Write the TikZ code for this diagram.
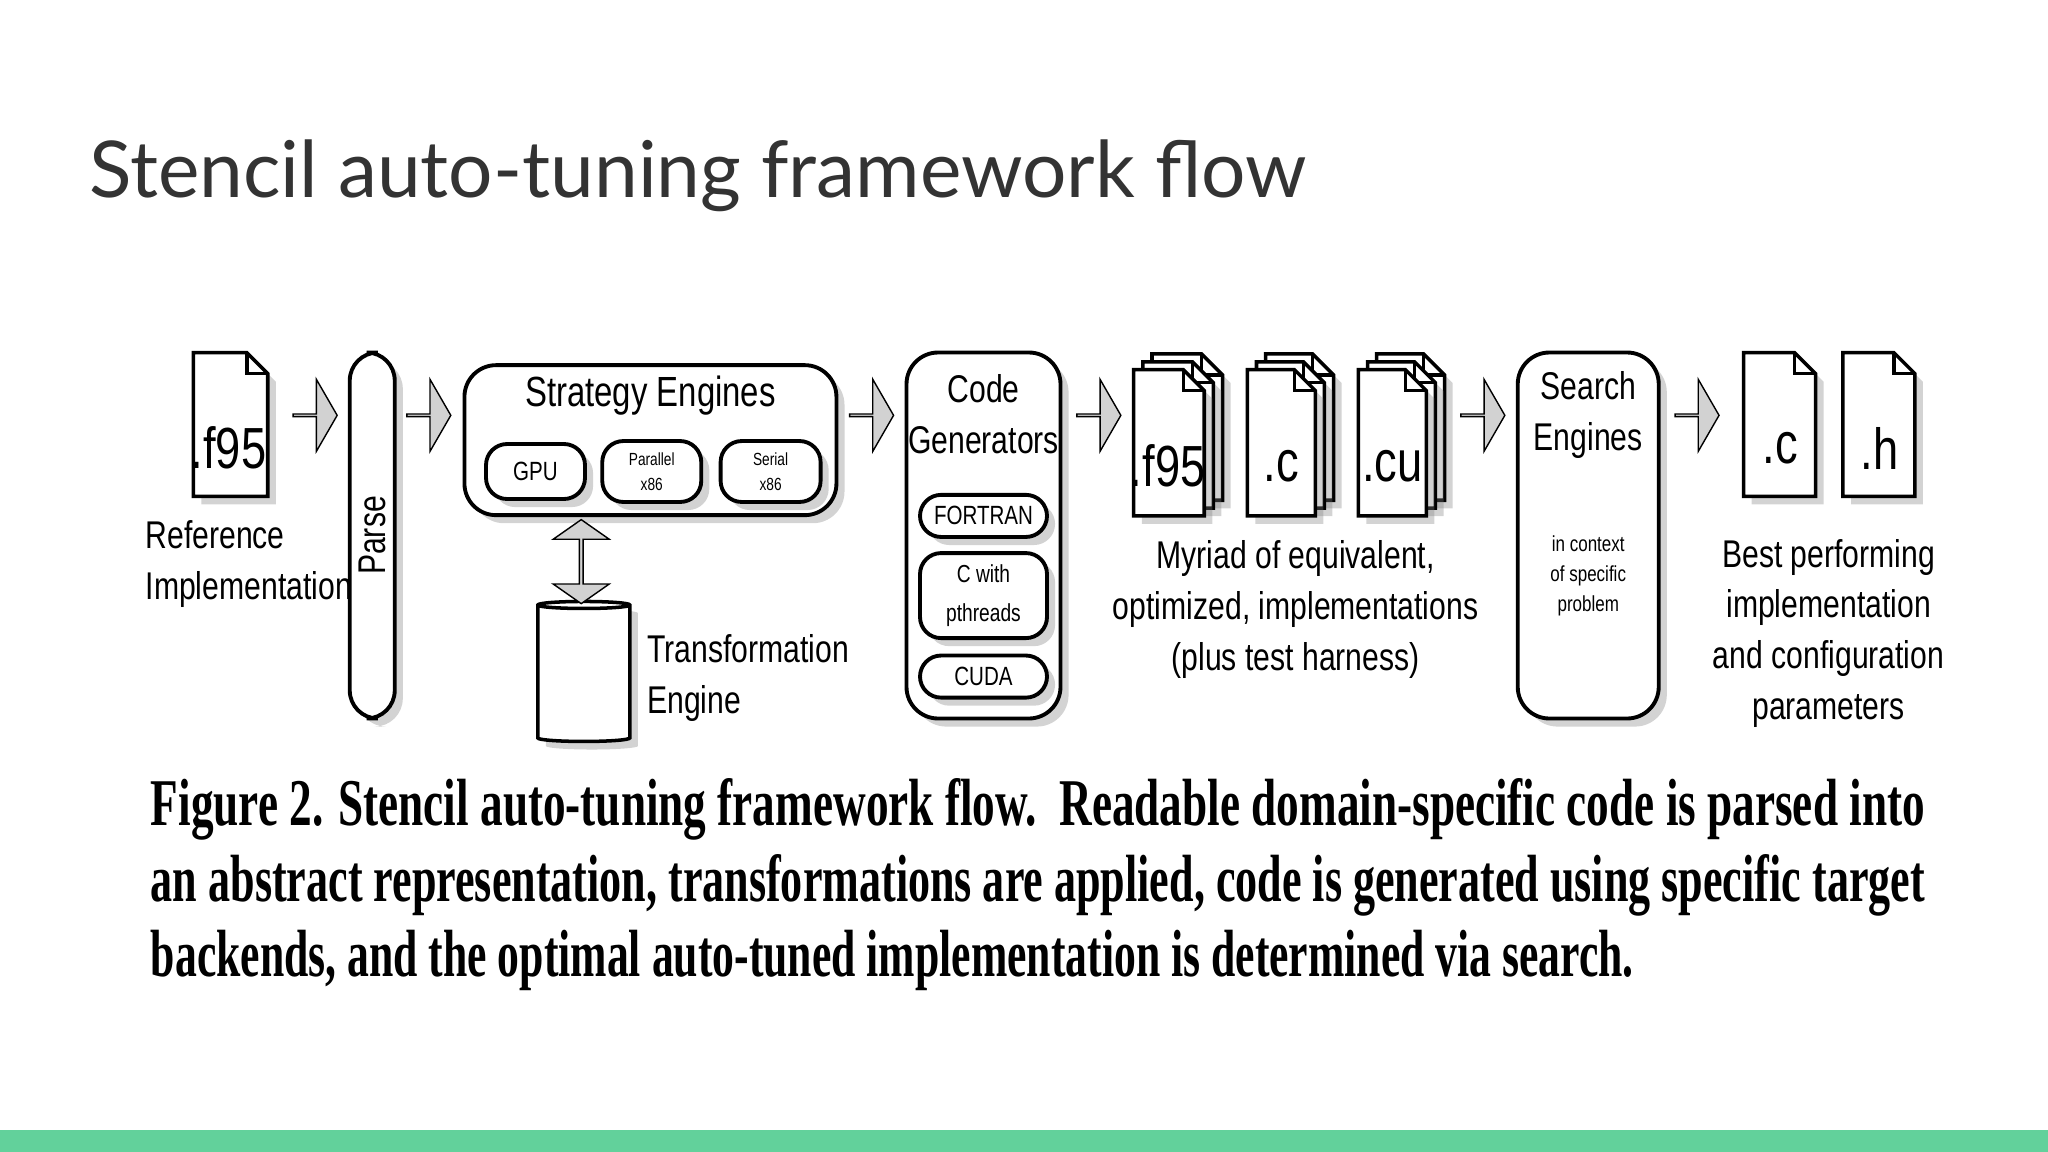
\documentclass[tikz,border=0pt]{standalone}
\usepackage{fontspec}
\setmainfont{Liberation Serif}
\newfontfamily\titlefont{Lato}
\newfontfamily\narrow{Liberation Sans}[FakeStretch=0.78]
\usetikzlibrary{positioning,shapes.arrows,shapes.geometric,shadows}
\definecolor{barcol}{HTML}{62D19B}
\definecolor{titlecol}{HTML}{333333}
\tikzset{
  box/.style={draw, line width=1.1pt, rounded corners=9pt, fill=white, drop shadow={opacity=0.35}},
  sub/.style={draw, line width=1.1pt, rounded corners=6pt, fill=white, drop shadow={opacity=0.35}, font=\narrow\fontsize{7.5}{9}\selectfont, align=center},
  flow/.style={single arrow, draw, fill=gray!35, minimum height=0.44cm, minimum width=0.72cm, single arrow head extend=0.18cm, single arrow tip angle=120, inner sep=0pt},
  lbl/.style={font=\narrow\fontsize{11}{14.5}\selectfont, align=center},
  ext/.style={font=\narrow\fontsize{16.5}{17}\selectfont},
  caption/.style={anchor=base west, inner sep=0pt, font=\bfseries\fontsize{19}{19}\selectfont}
}
% page with a folded corner: x, y, width, height
\newcommand{\docpage}[4]{%
  \draw[line width=1pt, fill=white, drop shadow={opacity=0.35}]
    (#1,#2) -- ++({#3-16},0) -- ++(16,16) -- ++(0,{#4-16}) -- ++({-#3},0) -- cycle;
  \draw[line width=1pt] ({#1+#3-16},#2) -- ++(0,16) -- ++(16,0);}
% stack of three pages
\newcommand{\docstack}[4]{%
  \docpage{#1+14}{#2-12}{#3}{#4}
  \docpage{#1+7}{#2-6}{#3}{#4}
  \docpage{#1}{#2}{#3}{#4}}
\begin{document}
\begin{tikzpicture}[x=0.013061cm, y=-0.013061cm]
  \useasboundingbox (0,0) rectangle (1568,882);
  \fill[barcol] (0,865) rectangle (1568,882);
  % title
  \node[anchor=base west, inner sep=0pt, text=titlecol, font=\titlefont\fontsize{22.3}{22}\selectfont] (title) at (68,151) {Stencil auto-tuning framework flow};
  % reference implementation
  \docpage{148}{270}{57}{110}
  \node[ext] (ff) at (175,343) {.f95};
  \node[lbl, align=left, anchor=west] (ref) at (102,432) {Reference\\Implementation};
  \node[flow] (a1) at (241,318) {};
  % parse
  \node[box, rounded corners=8pt, minimum width=0.45cm, minimum height=3.66cm] (parse) at (285,410) {};
  \node[lbl, rotate=90] (parsel) at (parse) {Parse};
  \node[flow] (a2) at (328,318) {};
  % strategy engines
  \node[box, minimum width=3.72cm, minimum height=1.5cm] (strat) at (498,337) {};
  \node[lbl, font=\narrow\fontsize{12}{12}\selectfont] (stratl) at (498,303) {Strategy Engines};
  \node[sub, minimum width=0.99cm, minimum height=0.55cm] (gpu) at (410,361) {GPU};
  \node[sub, minimum width=0.99cm, minimum height=0.55cm, font=\narrow\fontsize{5}{7}\selectfont] (par) at (499,361) {Parallel\\x86};
  \node[sub, minimum width=1.0cm, minimum height=0.55cm, font=\narrow\fontsize{5}{7}\selectfont] (ser) at (590,361) {Serial\\x86};
  % transformation engine
  \node[cylinder, shape border rotate=90, draw, line width=1pt, fill=white, aspect=0.3, minimum width=0.92cm, minimum height=1.4cm, drop shadow={opacity=0.35}] (trans) at (447,517) {};
  \node[double arrow, draw, fill=gray!35, rotate=90, minimum height=0.84cm, minimum width=0.56cm, double arrow head extend=0.1cm, double arrow tip angle=110, inner sep=0pt] (da) at (445,430) {};
  \node[lbl, align=left, anchor=west] (transl) at (486,519) {Transformation\\Engine};
  \node[flow] (a3) at (667,318) {};
  % code generators
  \node[box, minimum width=1.54cm, minimum height=3.66cm] (cg) at (753,410) {};
  \node[lbl] (cgl) at (753,317) {Code\\Generators};
  \node[sub, minimum width=1.27cm, minimum height=0.42cm] (fort) at (753,395) {FORTRAN};
  \node[sub, minimum width=1.27cm, minimum height=0.8cm, font=\narrow\fontsize{7}{11}\selectfont] (cpth) at (753,456) {C with\\pthreads};
  \node[sub, minimum width=1.27cm, minimum height=0.42cm] (cuda) at (753,518) {CUDA};
  \node[flow] (a4) at (841,318) {};
  % generated implementations
  \docstack{868}{283}{54}{112}
  \docstack{955}{283}{52}{112}
  \docstack{1040}{283}{52}{112}
  \node[ext] (gf) at (894,357) {.f95};
  \node[ext] (gc) at (981,357) {.c};
  \node[ext] (gcu) at (1066,357) {.cu};
  \node[lbl] (myr) at (992,467) {Myriad of equivalent,\\optimized, implementations\\(plus test harness)};
  \node[flow] (a5) at (1135,318) {};
  % search engines
  \node[box, minimum width=1.41cm, minimum height=3.66cm] (se) at (1216,410) {};
  \node[lbl] (sel) at (1216,318) {Search\\Engines};
  \node[lbl, font=\narrow\fontsize{6.2}{8.5}\selectfont] (sectx) at (1216,441) {in context\\of specific\\problem};
  \node[flow] (a6) at (1299,318) {};
  % best implementation
  \docpage{1335}{270}{55}{110}
  \docpage{1411}{270}{55}{110}
  \node[ext] (bc) at (1363,343) {.c};
  \node[ext] (bh) at (1439,343) {.h};
  \node[lbl] (best) at (1400,485) {Best performing\\implementation\\and configuration\\parameters};
  % caption
  \node[caption] (cap1) at (115,632) {\resizebox{17.74cm}{\height}{Figure 2. Stencil auto-tuning framework flow.\ \ Readable domain-specific code is parsed into}};
  \node[caption] (cap2) at (115,690) {\resizebox{17.74cm}{\height}{an abstract representation, transformations are applied, code is generated using specific target}};
  \node[caption] (cap3) at (115,748) {\resizebox{14.83cm}{\height}{backends, and the optimal auto-tuned implementation is determined via search.}};
\end{tikzpicture}
\end{document}
